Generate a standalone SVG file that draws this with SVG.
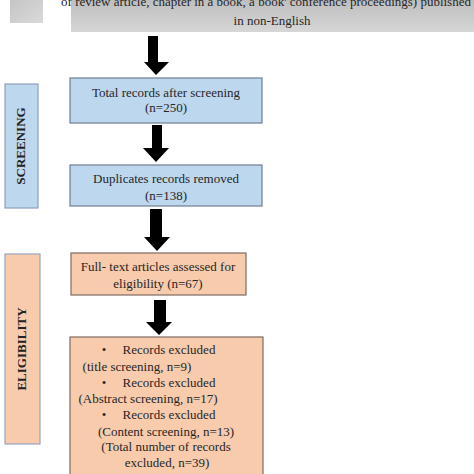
<svg xmlns="http://www.w3.org/2000/svg" width="474" height="474" viewBox="0 0 474 474">
<defs>
<linearGradient id="gray" x1="0" y1="0" x2="0" y2="1">
<stop offset="0" stop-color="#bdbdbd"/>
<stop offset="1" stop-color="#d6d6d6"/>
</linearGradient>
<linearGradient id="grayL" x1="0" y1="0" x2="1" y2="1">
<stop offset="0" stop-color="#c4c4c4"/>
<stop offset="1" stop-color="#dadada"/>
</linearGradient>
<style>
.t{font-family:"Liberation Serif","DejaVu Serif",serif;font-size:13px;fill:#262626;text-anchor:middle}
.lab{font-family:"Liberation Serif","DejaVu Serif",serif;font-size:13px;font-weight:bold;fill:#222;text-anchor:middle}
.blue{fill:#bdd7ee;stroke:#6f7f90;stroke-width:1.2}
.peach{fill:#f8cbad;stroke:#7d6a60;stroke-width:1.2}
.sideb{fill:#bdd7ee;stroke:#8e9fbd;stroke-width:1.2}
.sidep{fill:#f8cbad;stroke:#96a3c0;stroke-width:1.2}
.arr{fill:#000}
</style>
</defs>
<rect width="474" height="474" fill="#fff"/>
<g id="side-identification">
<rect x="10" y="-2" width="33" height="25" fill="url(#grayL)"/>
</g>
<g id="node-top">
<rect x="71" y="-2" width="405" height="34" fill="url(#gray)"/>
<text class="t" x="266" y="6">of review article, chapter in a book, a book' conference proceedings) published</text>
<text class="t" x="272" y="25">in non-English</text>
</g>
<g id="side-screening">
<rect class="sideb" x="5" y="84" width="33" height="124"/>
<text class="lab" transform="translate(25 146) rotate(-90)">SCREENING</text>
</g>
<g id="side-eligibility">
<rect class="sidep" x="5" y="254" width="35" height="190"/>
<text class="lab" transform="translate(26 349) rotate(-90)">ELIGIBILITY</text>
</g>
<g id="node-total">
<rect class="blue" x="70" y="78" width="192" height="45"/>
<text class="t" x="166" y="97">Total records after screening</text>
<text class="t" x="166" y="112">(n=250)</text>
</g>
<g id="node-duplicates">
<rect class="blue" x="70" y="165" width="192" height="41"/>
<text class="t" x="166" y="183">Duplicates records removed</text>
<text class="t" x="166" y="200">(n=138)</text>
</g>
<g id="node-fulltext">
<rect class="peach" x="71" y="253" width="175" height="42"/>
<text class="t" x="158" y="271">Full- text articles assessed for</text>
<text class="t" x="158" y="288">eligibility (n=67)</text>
</g>
<g id="node-excluded">
<rect class="peach" x="70" y="337" width="193" height="140"/>
<text class="t" x="162" y="354"><tspan x="104">•</tspan><tspan x="169">Records excluded</tspan></text>
<text class="t" x="137" y="371">(title screening, n=9)</text>
<text class="t" x="148" y="403">(Abstract screening, n=17)</text>
<text class="t" x="162" y="387"><tspan x="104">•</tspan><tspan x="169">Records excluded</tspan></text>
<text class="t" x="162" y="419"><tspan x="104">•</tspan><tspan x="169">Records excluded</tspan></text>
<text class="t" x="166" y="436">(Content screening, n=13)</text>
<text class="t" x="166" y="451">(Total number of records</text>
<text class="t" x="167" y="467">excluded, n=39)</text>
</g>
<g id="connectors">
<polygon class="arr" points="148,36 158,36 158,62 169,62 156,75 144,62 148,62"/>
<polygon class="arr" points="152,125 162,125 162,148 169,148 156,162 143,148 152,148"/>
<polygon class="arr" points="150,209 162,209 162,237 170,237 157,251 144,237 150,237"/>
<polygon class="arr" points="154,300 166,300 166,322 172,322 159,335 146,322 154,322"/>
</g>
</svg>
